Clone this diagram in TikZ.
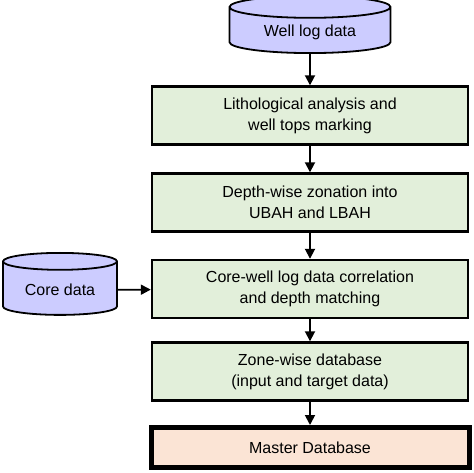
\documentclass[tikz,border=0pt]{standalone}
\usepackage{fontspec}
\setmainfont{Liberation Sans}
\usepackage{tikz}
\usetikzlibrary{arrows.meta,positioning,shapes.geometric}
\definecolor{leaf}{HTML}{E2EFDA}
\definecolor{lilac}{HTML}{CCCCFF}
\definecolor{peach}{HTML}{FBE4D5}

\begin{document}
\begin{tikzpicture}[x=1pt,y=1pt,
    stepbox/.style={draw,line width=2.4pt,fill=leaf,minimum width=316pt,minimum height=58pt,
      align=center,font=\fontsize{16}{21}\selectfont},
    datadrum/.style={draw,line width=1.8pt,fill=lilac,cylinder,shape border rotate=90,
      aspect=0.22,font=\fontsize{16}{21}\selectfont},
    flow/.style={line width=1.8pt,-{Triangle[length=10pt,width=10pt]}}]
      \useasboundingbox (0,0) rectangle (474,-472);
      % sources
      \node[datadrum,minimum width=161pt,minimum height=57pt] (well) at (310,-32) {Well log data};
      \node[datadrum,minimum width=114pt,minimum height=62pt] (core) at (60,-290) {Core data};
      % processing steps
      \node[stepbox] (litho) at (310,-115.5) {Lithological analysis and\\well tops marking};
      \node[stepbox] (zones) at (310,-202.5) {Depth-wise zonation into\\UBAH and LBAH};
      \node[stepbox] (match) at (310,-289) {Core-well log data correlation\\and depth matching};
      \node[stepbox] (zdb) at (310,-371.5) {Zone-wise database\\(input and target data)};
      \node[stepbox,line width=5pt,fill=peach,minimum height=40pt,minimum width=318pt] (master) at (310,-447.5) {Master Database};
      % arrows
      \draw[flow] (well) -- (litho);
      \draw[flow] (litho) -- (zones);
      \draw[flow] (zones) -- (match);
      \draw[flow] (match) -- (zdb);
      \draw[flow] (zdb) -- (master);
      \draw[flow] (core) -- (match);
    \end{tikzpicture}
\end{document}
